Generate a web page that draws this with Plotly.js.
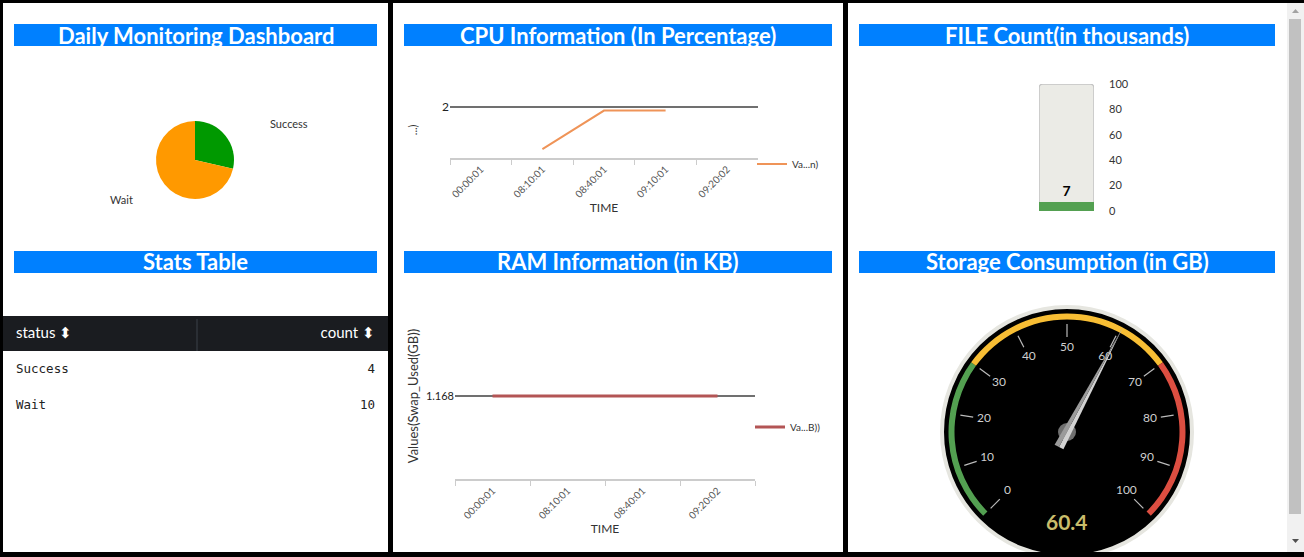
<!DOCTYPE html>
<html><head><meta charset="utf-8">
<script src="https://cdn.plot.ly/plotly-3.0.1.min.js"></script>
<style>html,body{margin:0;padding:0;background:#000;overflow:hidden}#chart{width:1304px;height:557px}</style>
</head><body><div id="chart"></div>
<script>
const W = 1304, H = 557;
const px = x => x / W, py = y => 1 - y / H;

// ---- data ----
const statusLabels = ['Success', 'Wait'];
const statusCounts = [4, 10];
const cpuTimes = ['00:00:01', '08:10:01', '08:40:01', '09:10:01', '09:20:02'];
const cpuValues = [null, 0.34, 1.86, 1.86, null];
const ramTimes = ['00:00:01', '08:10:01', '08:40:01', '09:20:02'];
const ramValues = [1.168, 1.168, 1.168, 1.168];
const fileCount = 7;
const fileMax = 100;
const fileTicks = [0, 20, 40, 60, 80, 100];
const storageValue = 60.4;
const storageBands = [0, 30, 70, 100];
const storageBandColors = ['#53a051', '#f8be34', '#dc4e41'];
const storageTicks = [0, 10, 20, 30, 40, 50, 60, 70, 80, 90, 100];
const panelTitles = ['Daily Monitoring Dashboard', 'Stats Table', 'CPU Information (In Percentage)', 'RAM Information (in KB)', 'FILE Count(in thousands)', 'Storage Consumption (in GB)'];

const FONT = 'Lato, "Open Sans", sans-serif';
const ang = v => (v - 50) * 2.7;
const GR = 125; // gauge radius in px

const traces = [];

// pie
traces.push({
  type: 'pie', labels: statusLabels, values: statusCounts, sort: false,
  direction: 'clockwise', rotation: 0, textinfo: 'none', hoverinfo: 'none',
  marker: { colors: ['#009900', '#ff9900'] },
  domain: { x: [px(156), px(234)], y: [py(199), py(121)] }, showlegend: false
});

// table
traces.push({
  type: 'table', domain: { x: [px(8), px(383)], y: [py(552), py(319)] },
  columnwidth: [1, 1],
  header: {
    values: ['status \u2B0D', 'count \u2B0D'], align: ['left', 'right'], height: 37,
    fill: { color: '#1a1c20' }, line: { color: '#1a1c20', width: 1 },
    font: { family: FONT, size: 15, color: '#ffffff' }
  },
  cells: {
    values: [statusLabels, statusCounts], align: ['left', 'right'], height: 36,
    fill: { color: '#ffffff' }, line: { color: '#ffffff', width: 1 },
    font: { family: '"DejaVu Sans Mono", monospace', size: 12.5, color: '#222' }
  }
});

// CPU line
traces.push({
  type: 'scatter', mode: 'lines', x: cpuTimes, y: cpuValues, xaxis: 'x', yaxis: 'y',
  name: 'Va...n)', line: { color: '#ef9458', width: 2 }, legend: 'legend', connectgaps: false
});

// RAM line
traces.push({
  type: 'scatter', mode: 'lines', x: ramTimes, y: ramValues, xaxis: 'x2', yaxis: 'y2',
  name: 'Va...B))', line: { color: '#b35555', width: 3 }, legend: 'legend2'
});

// filler gauge
traces.push({
  type: 'bar', x: [0], y: [fileMax], xaxis: 'x3', yaxis: 'y3', width: 1,
  marker: { color: '#ebebe6', line: { color: '#c4c4c4', width: 1.5 }, cornerradius: 4 },
  showlegend: false, hoverinfo: 'none'
});
traces.push({
  type: 'bar', x: [0], y: [fileCount], xaxis: 'x3', yaxis: 'y3', width: 1.02,
  marker: { color: '#53a051', cornerradius: 3 }, text: [fileCount],
  texttemplate: '<b>%{y}</b>', textposition: 'outside',
  textfont: { size: 14, color: '#000', family: FONT }, showlegend: false, hoverinfo: 'none'
});

// radial gauge bands
for (let i = 0; i < storageBands.length - 1; i++) {
  const a = storageBands[i], b = storageBands[i + 1];
  traces.push({
    type: 'barpolar', subplot: 'polar', r: [6], base: [112.5], theta: [ang((a + b) / 2)],
    width: [(b - a) * 2.7], marker: { color: storageBandColors[i], line: { width: 0 } },
    showlegend: false, hoverinfo: 'none'
  });
}
// gauge ticks
const tr = [], tt = [];
storageTicks.forEach(v => { tr.push(95, 108, null); tt.push(ang(v), ang(v), null); });
traces.push({
  type: 'scatterpolar', subplot: 'polar', mode: 'lines', r: tr, theta: tt,
  line: { color: '#bbbbbb', width: 1.2 }, showlegend: false, hoverinfo: 'none'
});
traces.push({
  type: 'scatterpolar', subplot: 'polar', mode: 'text', r: storageTicks.map(() => 84),
  theta: storageTicks.map(ang), text: storageTicks.map(String),
  textfont: { color: '#cfcfcf', size: 12, family: FONT }, showlegend: false, hoverinfo: 'none'
});
// pivot
traces.push({
  type: 'scatterpolar', subplot: 'polar', mode: 'markers', r: [0], theta: [0],
  marker: { color: '#707070', size: 18, line: { width: 0 } }, showlegend: false, hoverinfo: 'none'
});
// needle
const na = ang(storageValue);
traces.push({
  type: 'scatterpolar', subplot: 'polar', mode: 'lines', fill: 'toself',
  r: [120, 17.7, 17, 120], theta: [na, na + 180 - 16.4, na + 180, na],
  fillcolor: '#d2d2d2', line: { width: 0, color: '#d2d2d2' }, showlegend: false, hoverinfo: 'none'
});
traces.push({
  type: 'scatterpolar', subplot: 'polar', mode: 'lines', fill: 'toself',
  r: [120, 17, 17.7, 120], theta: [na, na + 180, na + 180 + 16.4, na],
  fillcolor: '#9b9b9b', line: { width: 0, color: '#9b9b9b' }, showlegend: false, hoverinfo: 'none'
});

// ---- shapes ----
const rect = (x0, y0, x1, y1, color, layer) => ({
  type: 'rect', xref: 'paper', yref: 'paper', x0: px(x0), x1: px(x1), y0: py(y1), y1: py(y0),
  fillcolor: color, line: { width: 0 }, layer: layer || 'below'
});
const shapes = [
  rect(3, 3, 388, 552, '#ffffff'),
  rect(393, 3, 843, 552, '#ffffff'),
  rect(848, 3, 1287, 552, '#ffffff'),
  rect(3, 316, 388, 351, '#1a1c20'),
  rect(3, 351, 388, 357, '#ffffff', 'above'),
  rect(196.5, 319, 197.5, 351, '#3a4048', 'above'),
  rect(14, 24, 377, 46, '#0080ff'),
  rect(14, 251, 377, 273, '#0080ff'),
  rect(404, 24, 832, 46, '#0080ff'),
  rect(404, 251, 832, 273, '#0080ff'),
  rect(859, 24, 1275, 46, '#0080ff'),
  rect(859, 251, 1275, 273, '#0080ff'),
  rect(1287, 3, 1304, 552, '#f1f1f1'),
  rect(1289, 19, 1301, 514, '#c1c1c1'),
  rect(0, 552, 1304, 557, '#000000', 'above'),
  { type: 'path', xref: 'paper', yref: 'paper', layer: 'below', fillcolor: '#a3a3a3', line: { width: 0 },
    path: `M ${px(1292)} ${py(13)} L ${px(1299)} ${py(13)} L ${px(1295.5)} ${py(9)} Z` },
  { type: 'path', xref: 'paper', yref: 'paper', layer: 'below', fillcolor: '#505050', line: { width: 0 },
    path: `M ${px(1292)} ${py(539)} L ${px(1299)} ${py(539)} L ${px(1295.5)} ${py(543)} Z` }
];

// ---- annotations ----
const titleCenters = [[195.5, 35], [195.5, 262], [618, 35], [618, 262], [1067, 35], [1067, 262]];
const annotations = panelTitles.map((t, i) => ({
  text: '<b>' + t + '</b>', xref: 'paper', yref: 'paper', x: px(titleCenters[i][0]), y: py(titleCenters[i][1]),
  xanchor: 'center', yanchor: 'middle', showarrow: false, font: { family: FONT, size: 22, color: '#ffffff' }
}));
annotations.push({ text: statusLabels[0], xref: 'paper', yref: 'paper', x: px(289), y: py(124), showarrow: false,
  xanchor: 'center', yanchor: 'middle', font: { size: 11, color: '#333', family: FONT } });
annotations.push({ text: statusLabels[1], xref: 'paper', yref: 'paper', x: px(121), y: py(199), showarrow: false,
  xanchor: 'center', yanchor: 'middle', font: { size: 11, color: '#333', family: FONT } });
annotations.push({ text: '<b>' + storageValue + '</b>', xref: 'paper', yref: 'paper', x: px(1067), y: py(521), showarrow: false,
  xanchor: 'center', yanchor: 'middle', font: { size: 21, color: '#c9bd6b', family: FONT } });

const xCommon = {
  type: 'category', tickson: 'boundaries', ticks: 'outside', ticklen: 5, tickcolor: '#cccccc', tickwidth: 1,
  showline: true, linecolor: '#cccccc', linewidth: 2, showgrid: false, zeroline: false, tickangle: -45,
  tickfont: { size: 10, color: '#555', family: FONT }, fixedrange: true
};

const layout = {
  width: W, height: H, margin: { l: 0, r: 0, t: 0, b: 0 },
  paper_bgcolor: '#000000', plot_bgcolor: 'rgba(0,0,0,0)',
  font: { family: FONT, color: '#333' },
  barmode: 'overlay',
  xaxis: Object.assign({}, xCommon, { domain: [px(450), px(758)], anchor: 'y', range: [-0.5, 4.5],
    categoryarray: cpuTimes, categoryorder: 'array',
    title: { text: 'TIME', font: { size: 12, color: '#333' }, standoff: 5 } }),
  yaxis: { domain: [py(157.7), py(102)], anchor: 'x', range: [0, 2.2], tickvals: [2], showgrid: true,
    gridcolor: '#707070', gridwidth: 1.5, zeroline: false, showline: false, ticks: '',
    tickfont: { size: 12, color: '#222' }, title: { text: '...)', font: { size: 11, color: '#333' }, standoff: 22 } },
  xaxis2: Object.assign({}, xCommon, { domain: [px(455), px(755)], anchor: 'y2', range: [-0.5, 3.5],
    categoryarray: ramTimes, categoryorder: 'array',
    title: { text: 'TIME', font: { size: 12, color: '#333' }, standoff: 4 } }),
  yaxis2: { domain: [py(479), py(313)], anchor: 'x2', range: [1.167, 1.169], tickvals: [1.168], showgrid: true,
    gridcolor: '#707070', gridwidth: 1.5, zeroline: false, showline: false, ticks: '',
    tickfont: { size: 11, color: '#222' },
    title: { text: 'Values(Swap_Used(GB))', font: { size: 13, color: '#333' }, standoff: 4 } },
  xaxis3: { domain: [px(1039), px(1094)], anchor: 'y3', range: [-0.5, 0.5], visible: false },
  yaxis3: { domain: [py(211), py(84)], anchor: 'x3', range: [0, fileMax], side: 'right', tickvals: fileTicks,
    showgrid: false, zeroline: false, showline: false, ticks: '', ticklabelstandoff: 14,
    tickfont: { size: 11, color: '#333' } },
  polar: {
    domain: { x: [px(1067 - GR), px(1067 + GR)], y: [0, py(432 - GR)] }, bgcolor: '#000000', hole: 0,
    radialaxis: { visible: false, range: [0, GR] },
    angularaxis: { rotation: 90, direction: 'clockwise', showgrid: false, showticklabels: false, ticks: '',
      showline: true, linecolor: '#e6e6e0', linewidth: 4 }
  },
  legend: { x: px(752), y: py(164), xanchor: 'left', yanchor: 'middle', bgcolor: 'rgba(0,0,0,0)',
    font: { size: 10, color: '#333' }, itemwidth: 30 },
  legend2: { x: px(750), y: py(427), xanchor: 'left', yanchor: 'middle', bgcolor: 'rgba(0,0,0,0)',
    font: { size: 10, color: '#333' }, itemwidth: 30 },
  shapes: shapes, annotations: annotations, showlegend: true
};

Plotly.newPlot('chart', traces, layout, { staticPlot: true, displayModeBar: false });
</script>
</body></html>
